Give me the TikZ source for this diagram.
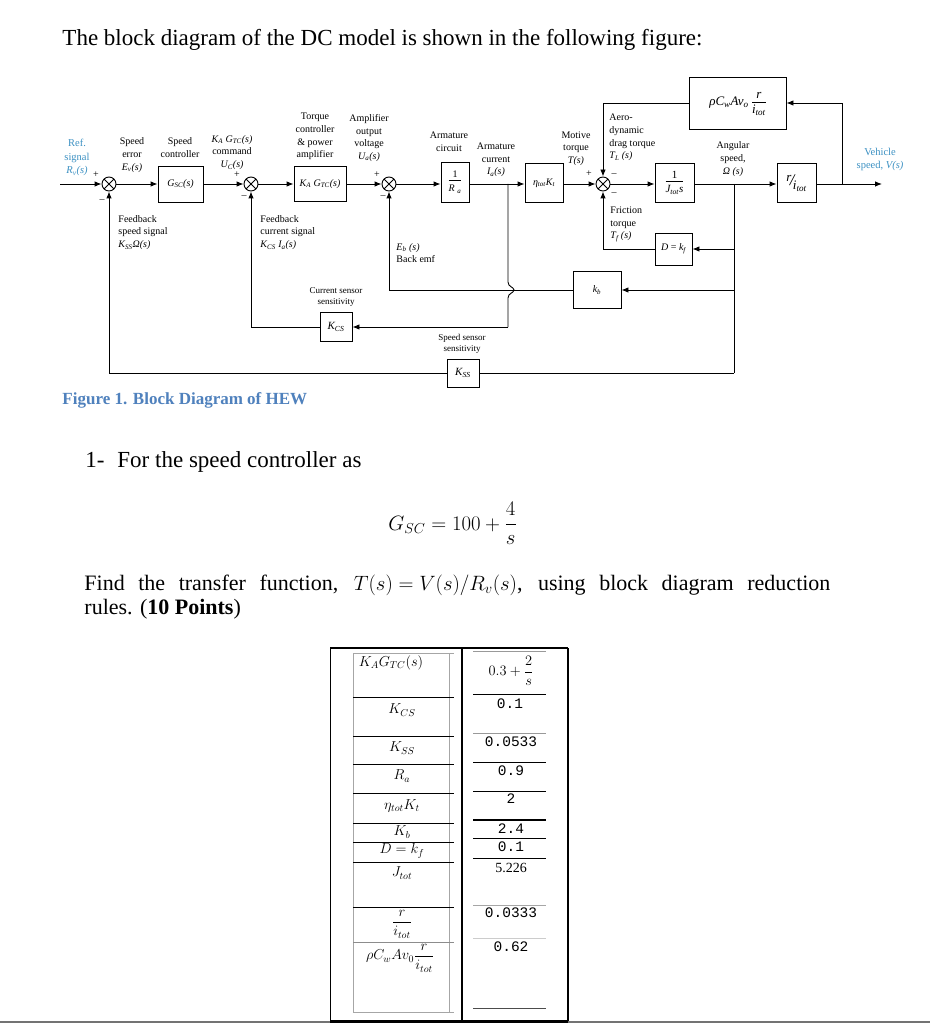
\documentclass[tikz,border=0pt]{standalone}
\usepackage{amsmath}
\usepackage{fontspec}
\setmainfont{Liberation Serif}
\setmonofont{Liberation Mono}
\usetikzlibrary{arrows.meta,calc}
\definecolor{refblue}{RGB}{60,145,195}
\definecolor{capblue}{RGB}{79,129,189}
\newcommand\sbs[1]{\textsubscript{#1}}
\newcommand\dfont{\fontsize{10}{12.6}\selectfont}
\newcommand\sfont{\fontsize{9}{11.5}\selectfont}
\newcommand\tfont{\fontsize{14}{17}\selectfont}
\newcommand\bfrac[2]{\begin{tabular}{@{}c@{}}#1\\[-1pt]\hline\rule{0pt}{11pt}#2\end{tabular}}
\begin{document}
\begin{tikzpicture}[x=1pt,y=-1pt,line width=0.9pt,
  blk/.style={draw,line width=0.9pt,inner sep=0pt,font=\dfont\itshape},
  sj/.style={circle,draw,minimum size=14pt,inner sep=0pt,
    path picture={\draw (path picture bounding box.north west)--(path picture bounding box.south east)
      (path picture bounding box.north east)--(path picture bounding box.south west);}},
  lbl/.style={font=\dfont,align=center,inner sep=0pt},
  lbll/.style={font=\dfont,align=left,inner sep=0pt,anchor=west},
  sgn/.style={font=\dfont,inner sep=0pt},
  arr/.style={-{Latex[length=7pt,width=5.5pt]}},
  body/.style={font=\fontsize{23}{27}\selectfont,inner sep=0pt,anchor=base west},
  tl/.style={font=\tfont,inner sep=0pt},
  tn/.style={font=\fontsize{14.5}{17}\selectfont\ttfamily,inner sep=0pt}]
\useasboundingbox (0,0) rectangle (930,1024);
\fill[white] (0,0) rectangle (930,1024);

% ---------- body text ----------
\node[body] (title) at (62,46) {The block diagram of the DC model is shown in the following figure:};
\node[body,font=\fontsize{17}{20}\selectfont\bfseries,text=capblue] (cap) at (62,404) {Figure 1. Block Diagram of HEW};
\node[body] (q1) at (85,467) {1-};
\node[body] (q1t) at (117,467) {For the speed controller as};
\node[body,font=\fontsize{21.5}{25}\selectfont] (eq) at (388,530) {$G_{SC}=100+\dfrac{4}{s}$};
\node[body,font=\fontsize{22}{26}\selectfont] (find) at (84,590) {\makebox[746pt][s]{Find the transfer function, \mbox{$T(s)=V(s)/R_v(s)$}, using block diagram reduction}};
\node[body,font=\fontsize{22}{26}\selectfont] (rules) at (84,614) {rules. (\textbf{10 Points})};

% ---------- block diagram ----------
\coordinate (in) at (60,184);
\node[sj] (s1) at (109,184) {};
\node[blk,minimum width=45pt,minimum height=36pt] (gsc) at (180.5,184) {G\sbs{SC}(s)};
\node[sj] (s2) at (251,184) {};
\node[blk,minimum width=52pt,minimum height=35pt] (ka) at (320,184) {K\sbs{A} G\sbs{TC}(s)};
\node[sj] (s3) at (389,184) {};
\node[blk,minimum width=28pt,minimum height=40pt,font=\dfont] (ra) at (455,182) {\bfrac{1}{\textit{R} \textit{\sbs{a}}}};
\coordinate (ib) at (508,184);
\node[blk,minimum width=38pt,minimum height=39pt] (eta) at (544,183) {η\sbs{tot}K\sbs{t}};
\node[sj] (s4) at (603,184) {};
\node[blk,minimum width=39pt,minimum height=39pt,font=\fontsize{11}{13}\selectfont] (jt) at (674.5,183) {\bfrac{1}{\textit{J\sbs{tot}s}}};
\coordinate (wb) at (734,184);
\node[blk,minimum width=39pt,minimum height=39pt,font=\fontsize{13}{15}\selectfont\itshape] (ri) at (796.5,183) {\raisebox{4pt}{r}\kern-1.5pt\scalebox{1.25}{/}\kern-1.5pt\raisebox{-4pt}{i\sbs{tot}}};
\coordinate (vb) at (842,184);
\coordinate (out) at (882,184);
\node[blk,minimum width=97pt,minimum height=52pt,font=\fontsize{13}{15}\selectfont\itshape] (aero) at (737.5,103) {ρC\sbs{w}Av\sbs{o}\ \bfrac{r}{i\sbs{tot}}};
\node[blk,minimum width=37pt,minimum height=32pt] (dk) at (673.5,249) {D {\upshape =} k\sbs{f}};
\node[blk,minimum width=48pt,minimum height=37pt] (kb) at (597,290) {k\sbs{b}};
\node[blk,minimum width=32pt,minimum height=29pt,font=\fontsize{11}{13}\selectfont\itshape] (kcs) at (336,327) {K\sbs{CS}};
\node[blk,minimum width=32pt,minimum height=28pt,font=\fontsize{11}{13}\selectfont\itshape] (kss) at (463,373) {K\sbs{SS}};

% forward path
\draw[arr] (in) -- (s1);
\draw[arr] (s1) -- (gsc);
\draw[arr] (gsc) -- (s2);
\draw[arr] (s2) -- (ka);
\draw[arr] (ka) -- (s3);
\draw[arr] (s3) -- (ra.west |- s3);
\draw[arr] (ra.east |- ib) -- (eta.west |- ib);
\draw[arr] (eta.east |- s4) -- (s4);
\draw[arr] (s4) -- (jt.west |- s4);
\draw[arr] (jt.east |- wb) -- (ri.west |- wb);
\draw[arr] (ri.east |- vb) -- (out);
% aero feedback
\draw[arr] (vb) |- (aero.east);
\draw[arr] (aero.west) -| (s4.north);
% omega branch
\coordinate (wbot) at (734,373);
\draw (wb) -- (wbot);
\draw[arr] (dk.east -| wb) -- (dk.east);
\draw[arr] (dk.west) -| (s4.south);
\draw[arr] (kb.east -| wb) -- (kb.east);
\draw[arr] (kb.west) -| (s3.south);
% current feedback with jumper
\draw (ib) -- (508,282) .. controls (508,287) and (514,287) .. (514,290) .. controls (514,293) and (508,293) .. (508,298) -- (kcs.east -| ib);
\draw[arr] (kcs.east -| ib) -- (kcs.east);
\draw[arr] (kcs.west) -| (s2.south);
% speed feedback
\draw (wbot) -- (kss.east);
\draw[arr] (kss.west) -| (s1.south);

% signs
\node[sgn] at (96,175) {+};
\node[sgn] at (102,201) {--};
\node[sgn] at (237,175) {+};
\node[sgn] at (244,197) {--};
\node[sgn] at (377,175) {+};
\node[sgn] at (383,197) {--};
\node[sgn] at (589,174) {+};
\node[sgn] at (614,175) {--};
\node[sgn] at (614,194) {--};

% labels
\node[lbl,text=refblue,font=\fontsize{10.5}{13.5}\selectfont] (lref) at (77,157.5) {Ref.\\signal\\\textit{R\sbs{v}(s)}};
\node[lbl] (lerr) at (132,155) {Speed\\error\\\textit{E\sbs{v}(s)}};
\node[lbl] (lsc) at (180,147.5) {Speed\\controller};
\node[lbl] (lcmd) at (232,152.5) {\textit{K\sbs{A} G\sbs{TC}(s)}\\command\\\textit{U\sbs{C}(s)}};
\node[lbl] (ltq) at (315,136.5) {Torque\\controller\\\& power\\amplifier};
\node[lbl] (lamp) at (369,138) {Amplifier\\output\\voltage\\\textit{U\sbs{a}(s)}};
\node[lbl] (larm) at (449,141.5) {Armature\\circuit};
\node[lbl] (lcur) at (496,160) {Armature\\current\\\textit{I\sbs{a}(s)}};
\node[lbl] (lmot) at (576,148.5) {Motive\\torque\\\textit{T(s)}};
\node[lbll] (laer) at (609,137.5) {Aero-\\dynamic\\drag torque\\\textit{T\sbs{L} (s)}};
\node[lbl] (lang) at (733,159) {Angular\\speed,\\\textit{Ω (s)}};
\node[lbl,text=refblue,font=\fontsize{10.5}{13.5}\selectfont] (lveh) at (880,159.5) {Vehicle\\speed, \textit{V(s)}};
\node[lbll] (lfbs) at (118,232.5) {Feedback\\speed signal\\\textit{K\sbs{SS}Ω(s)}};
\node[lbll] (lfbc) at (260,232.5) {Feedback\\current signal\\\textit{K\sbs{CS} I\sbs{a}(s)}};
\node[lbll] (leb) at (396,253) {\textit{E\sbs{b} (s)}\\Back emf};
\node[lbll] (lfr) at (610,224.5) {Friction\\torque\\\textit{T\sbs{f} (s)}};
\node[lbl,font=\sfont] (lcs) at (336,297) {Current sensor\\sensitivity};
\node[lbl,font=\sfont] (lss) at (462,344) {Speed sensor\\sensitivity};

% ---------- table ----------
\draw[line width=1.5pt] (330.5,648) -- (330.5,1021);
\draw[line width=1.5pt] (330,648) -- (568,648);
\draw[line width=2pt] (462,648) -- (462,1021);
\draw[line width=2pt] (568,648) -- (568,1021);
\draw[black!35,line width=0.8pt] (353,653) rectangle (449,1012);
\draw[black!35,line width=0.8pt] (353,653) -- (454,653) (353,1012) -- (454,1012);
\foreach \yy in {697,736,764,793,823,842,862,907}
  \draw[line width=0.8pt] (353,\yy) -- (454,\yy);
\draw[black!45,line width=0.8pt] (353,942) -- (454,942);
\foreach \yy in {694,762,791,838,858}
  \draw[line width=0.8pt] (473,\yy) -- (546,\yy);
\draw[line width=1.3pt] (473,820) -- (546,820);
\draw[black!40,line width=0.8pt] (473,651) -- (546,651) (473,733) -- (546,733);
\draw[black!35,line width=0.8pt] (473,905) -- (546,905);
\draw[black!20,line width=0.8pt] (473,938) -- (546,938);
\draw[black!70,line width=0.8pt] (473,1008) -- (546,1008);
\draw[black!55,line width=2.2pt] (0,1022) -- (930,1022);
\draw[line width=3pt] (330,1021) -- (568,1021);

\node[tl] (t1) at (391,663) {$K_AG_{TC}(s)$};
\node[tl] (t2) at (402,710) {$K_{CS}$};
\node[tl] (t3) at (402,748) {$K_{SS}$};
\node[tl] (t4) at (402,776) {$R_a$};
\node[tl] (t5) at (402,806) {$\eta_{tot}K_t$};
\node[tl] (t6) at (402,832) {$K_b$};
\node[tl] (t7) at (402,851) {$D=k_f$};
\node[tl] (t8) at (402,873) {$J_{tot}$};
\node[tl] (t9) at (402,924) {$\dfrac{r}{i_{tot}}$};
\node[tl] (t10) at (400,958) {$\rho C_wAv_0\dfrac{r}{i_{tot}}$};

\node[tl] (v1) at (511,671) {$0.3+\dfrac{2}{s}$};
\node[tn] (v2) at (510,704) {0.1};
\node[tn] (v3) at (511,742) {0.0533};
\node[tn] (v4) at (511,771) {0.9};
\node[tn] (v5) at (511,799) {2};
\node[tn] (v6) at (511,829) {2.4};
\node[tn] (v7) at (511,847) {0.1};
\node[tl] (v8) at (511,868) {5.226};
\node[tn] (v9) at (511,913) {0.0333};
\node[tn] (v10) at (511,947) {0.62};
\end{tikzpicture}
\end{document}
